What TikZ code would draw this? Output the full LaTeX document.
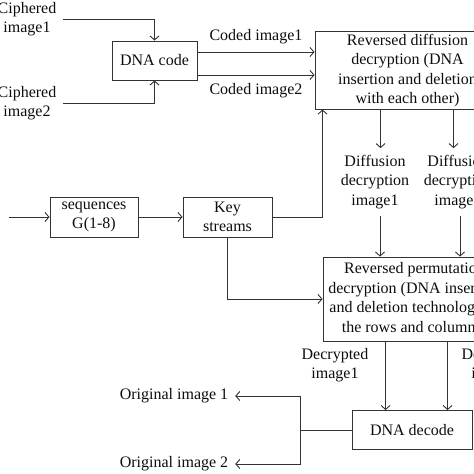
\documentclass[tikz,border=0pt]{standalone}
\usepackage{fontspec}
\setmainfont{Liberation Serif}
\usetikzlibrary{arrows.meta,positioning}
\tikzset{blockbox/.style={draw, rectangle, align=center, inner sep=2pt},
         lbl/.style={align=center, inner sep=3pt, outer sep=4pt}}

\begin{document}
\begin{tikzpicture}[x=1pt, y=-1pt, line width=0.9pt, draw=black!80, text=black!95,
        >={Straight Barb[length=4pt,width=9pt]}, font=\fontsize{16}{19.5}\selectfont]
        \useasboundingbox (0,0) rectangle (474,474);
        \clip (0,0) rectangle (474,474);

        \node[lbl] (cip1) at (27,19) {Ciphered\\image1};
        \node[lbl] (cip2) at (27,103) {Ciphered\\image2};
        \node[blockbox, minimum width=85, minimum height=39] (dna) at (154.5,60.5) {DNA code};
        \node[blockbox, minimum width=185, minimum height=77] (rdiff) at (407.5,70.5) {Reversed diffusion\\decryption (DNA\\insertion and deletion\\with each other)};
        \coordinate (in) at (9,217);
        \node[blockbox, minimum width=88, minimum height=40] (seq) at (94,217) {sequences\\G(1-8)};
        \node[blockbox, minimum width=89, minimum height=40] (ks) at (227.5,217) {Key\\streams};
        \node[lbl] (dd1) at (375,182) {Diffusion\\decryption\\image1};
        \node[lbl] (dd2) at (458,182) {Diffusion\\decryption\\image2};
        \node[blockbox, minimum width=183, minimum height=84] (rperm) at (414.5,299) {Reversed permutation\\decryption (DNA insertion\\and deletion technology in\\the rows and columns)};
        \node[lbl] (de1) at (335,365) {Decrypted\\image1};
        \node[lbl] (de2) at (495,365) {Decrypted\\image2};
        \node[blockbox, minimum width=120, minimum height=39] (dec) at (412,430) {DNA decode};
        \coordinate (split) at (300,430);
        \node[lbl] (orig1) at (174,396) {Original image 1};
        \node[lbl] (orig2) at (174,464) {Original image 2};

        % encoding and diffusion
        \draw[->] (cip1.east) -| (dna.north);
        \draw[->] (cip2.east) -| (dna.south);
        \draw[->] ([yshift=8.5pt]dna.east) -- ([yshift=8.5pt]dna.east -| rdiff.west) node[midway, above, yshift=4pt]{Coded image1};
        \draw[->] ([yshift=-14.5pt]dna.east) -- ([yshift=-14.5pt]dna.east -| rdiff.west) node[midway, below, yshift=-5pt]{Coded image2};
        \draw[->] (in) -- (seq.west);
        \draw[->] (seq.east) -- (ks.west);
        \draw[->] (ks.east) -| ([xshift=8pt]rdiff.south west);
        \draw[->] (ks.south) |- (rperm.west);
        \draw[->] ([xshift=66pt]rdiff.south west) -- ([xshift=66pt]rdiff.south west |- dd1.north);
        \draw[->] ([xshift=139pt]rdiff.south west) -- ([xshift=139pt]rdiff.south west |- dd2.north);
        \draw[->] ([xshift=5pt]dd1.south) -- ([xshift=5pt]dd1.south |- rperm.north);
        \draw[->] ([xshift=2pt]dd2.south) -- ([xshift=2pt]dd2.south |- rperm.north);

        % permutation and decoding
        \draw[->] ([xshift=63pt]rperm.south west) -- ([xshift=63pt]rperm.south west |- dec.north);
        \draw[->] ([xshift=125pt]rperm.south west) -- ([xshift=125pt]rperm.south west |- dec.north);
        \draw (dec.west) -- (split);
        \draw[->] (split) |- (orig1.east);
        \draw[->] (split) |- (orig2.east);
\end{tikzpicture}
\end{document}
